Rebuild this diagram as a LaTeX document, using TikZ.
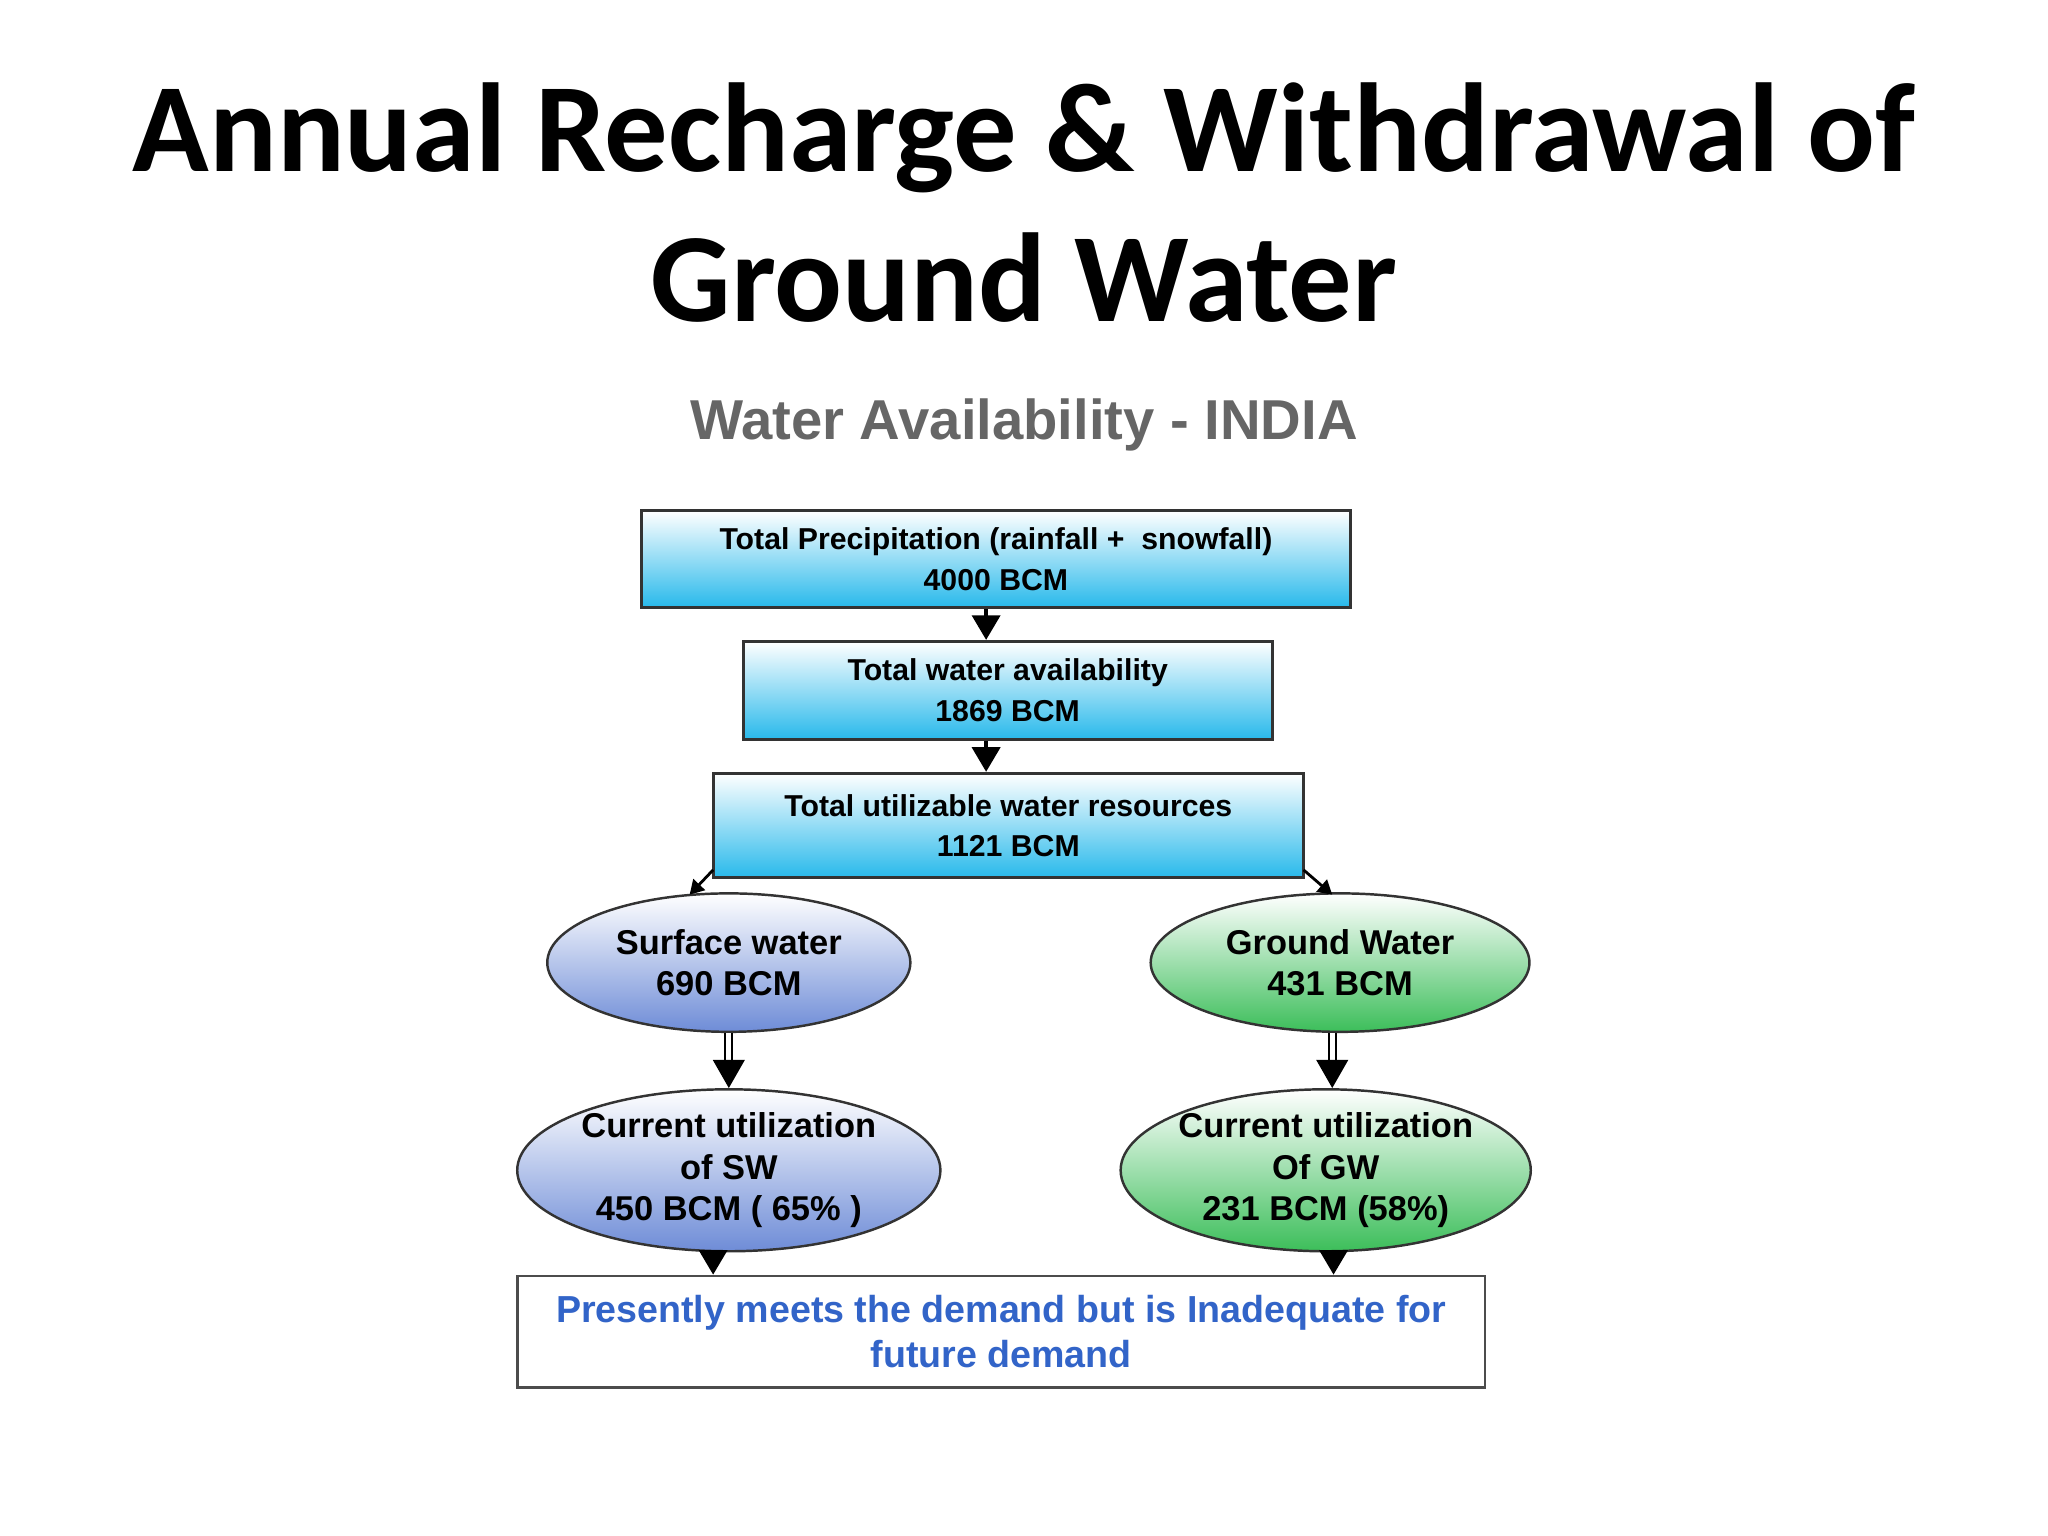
\documentclass[tikz,border=0pt]{standalone}
\usepackage{fontspec}
\setmainfont{Liberation Sans}
\newfontfamily\titlefont{Carlito}
\usetikzlibrary{shapes.geometric,arrows.meta}
\definecolor{cyanb}{RGB}{40,185,235}
\definecolor{blueb}{RGB}{110,140,215}
\definecolor{greenb}{RGB}{60,190,90}
\definecolor{txtblue}{RGB}{50,100,200}
\tikzset{
 bx/.style={draw=black!80,line width=0.8pt,top color=white,bottom color=cyanb,align=center,font=\bfseries\fontsize{8.6}{11.5}\selectfont,inner sep=0},
 el/.style={ellipse,draw=black!80,line width=0.7pt,inner sep=0},
 eltxt/.style={align=center,font=\bfseries\fontsize{9.8}{11.8}\selectfont},
 tri/.style={-{Triangle[length=7pt,width=8pt]},line width=1pt},
 smtri/.style={-{Triangle[length=4pt,width=4.5pt]},line width=0.8pt},
 dbl/.style={-{Triangle[length=8pt,width=9pt]},double,double distance=1.5pt,line width=0.5pt},
}
\begin{document}
\begin{tikzpicture}[x=0.01306cm,y=-0.01306cm]
\useasboundingbox (0,0) rectangle (1568,1176);
\node[font=\titlefont\bfseries\fontsize{36}{42.6}\selectfont,align=center] (t) at (784,155) {Annual Recharge \& Withdrawal of\\Ground Water};
\node[font=\bfseries\fontsize{16}{19}\selectfont,text=black!60] (s) at (784,325) {Water Availability - INDIA};
\node[bx,minimum width=543*0.01306cm,minimum height=74*0.01306cm] (b1) at (762.5,428) {Total Precipitation (rainfall +\ \ snowfall)\\4000 BCM};
\node[bx,minimum width=405*0.01306cm,minimum height=75*0.01306cm] (b2) at (771.5,528.5) {Total water availability\\1869 BCM};
\node[bx,minimum width=452*0.01306cm,minimum height=80*0.01306cm] (b3) at (772,632) {Total utilizable water resources\\1121 BCM};
\node[el,minimum width=278*0.01306cm,minimum height=106*0.01306cm,top color=white,bottom color=blueb] (sw) at (558,737) {};
\node[el,minimum width=290*0.01306cm,minimum height=106*0.01306cm,top color=white,bottom color=greenb] (gw) at (1026,737) {};
\node[el,minimum width=324*0.01306cm,minimum height=124*0.01306cm,top color=white,bottom color=blueb] (cs) at (558,896) {};
\node[el,minimum width=314*0.01306cm,minimum height=124*0.01306cm,top color=white,bottom color=greenb] (cg) at (1015,896) {};
\node[eltxt] (swt) at (sw) {Surface water\\690 BCM};
\node[eltxt] (gwt) at (gw) {Ground Water\\431 BCM};
\node[eltxt] (cst) at (cs) {Current utilization\\of SW\\450 BCM ( 65\% )};
\node[eltxt] (cgt) at (cg) {Current utilization\\Of GW\\231 BCM (58\%)};
\node[draw=black!70,line width=0.8pt,minimum width=741*0.01306cm,minimum height=85*0.01306cm,align=center,text=txtblue,font=\bfseries\fontsize{10.7}{13}\selectfont] (bb) at (766.5,1019.5) {Presently meets the demand but is Inadequate for\\future demand};
\coordinate (l1) at (546,666);
\coordinate (l2) at (528,685);
\coordinate (r1) at (998,666);
\coordinate (r2) at (1020,685);
\draw[tri] (b1.south -| 755,0) -- (b2.north -| 755,0);
\draw[tri] (b2.south -| 755,0) -- (b3.north -| 755,0);
\draw[smtri] (l1) -- (l2);
\draw[smtri] (r1) -- (r2);
\draw[dbl] (sw.south) -- (cs.north);
\draw[dbl] (gw.south -| 1020,0) -- (cg.north -| 1020,0);
\draw[tri] (cs.south -| 546,0) -- (bb.north -| 546,0);
\draw[tri] (cg.south -| 1021,0) -- (bb.north -| 1021,0);
\end{tikzpicture}
\end{document}
